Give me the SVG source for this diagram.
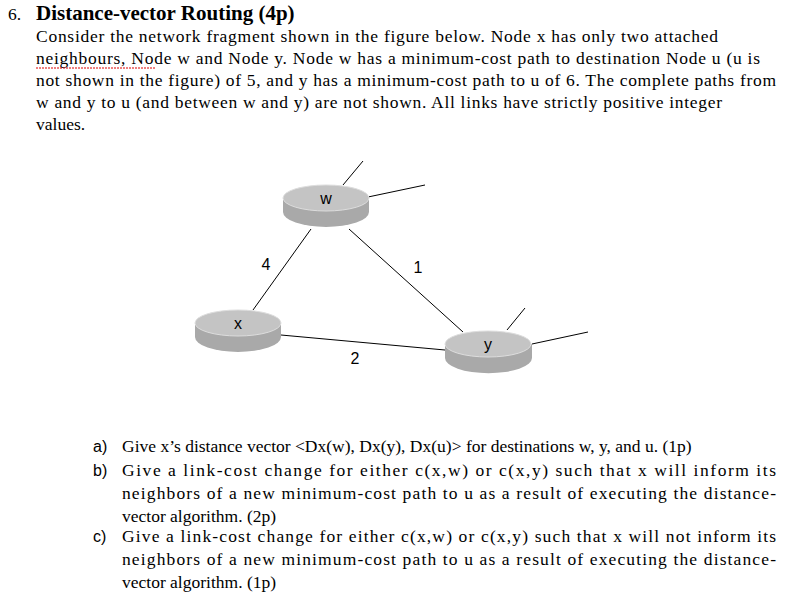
<svg xmlns="http://www.w3.org/2000/svg" width="788" height="600" viewBox="0 0 788 600">
<style>
.t{font-family:"Liberation Serif",serif;font-size:17.5px;fill:#000}
.h{font-family:"Liberation Serif",serif;font-size:21px;font-weight:bold}
.s{font-family:"Liberation Sans",sans-serif;font-size:16px;fill:#000}
.l{stroke:#000;stroke-width:1;fill:none}
.side{fill:#a9a9a9}
.top{fill:#c4c4c4;stroke:#ddd;stroke-width:1}
.sq{stroke:#d00;stroke-width:1;fill:none;stroke-dasharray:2 1}
</style>
<rect width="788" height="600" fill="#fff"/>
<text class="t" x="8" y="20">6.</text>
<text class="h" x="36" y="20">Distance-vector Routing (4p)</text>
<text class="t" x="36" y="42" textLength="682" lengthAdjust="spacing">Consider the network fragment shown in the figure below. Node x has only two attached</text>
<text class="t" x="36" y="64" textLength="724" lengthAdjust="spacing">neighbours, Node w and Node y. Node w has a minimum-cost path to destination Node u (u is</text>
<text class="t" x="36" y="86" textLength="740" lengthAdjust="spacing">not shown in the figure) of 5, and y has a minimum-cost path to u of 6. The complete paths from</text>
<text class="t" x="36" y="108" textLength="686" lengthAdjust="spacing">w and y to u (and between w and y) are not shown. All links have strictly positive integer</text>
<text class="t" x="36" y="130">values.</text>
<path class="sq" d="M36 68 l120 0"/>
<g id="connectors">
<path class="l" d="M343 185L363 161M368 197L425 185M253 310L311 229M349 229L463 332M281 335L445 350M507 330L525 308M532 344L588 332"/>
<text class="s" x="266" y="270" text-anchor="middle">4</text>
<text class="s" x="418" y="273" text-anchor="middle">1</text>
<text class="s" x="355" y="364" text-anchor="middle">2</text>
</g>
<g id="w">
<path class="side" d="M283 198v14a43 15 0 0 0 86 0v-14z"/>
<ellipse class="top" cx="326" cy="198" rx="43" ry="13"/>
<text class="s" x="326" y="204" text-anchor="middle">w</text>
</g>
<g id="x">
<path class="side" d="M195 323v14a43 15 0 0 0 86 0v-14z"/>
<ellipse class="top" cx="238" cy="323" rx="43" ry="13"/>
<text class="s" x="238" y="329" text-anchor="middle">x</text>
</g>
<g id="y">
<path class="side" d="M445 344v14a43 15 0 0 0 87 0v-14z"/>
<ellipse class="top" cx="488" cy="344" rx="43" ry="13"/>
<text class="s" x="488" y="350" text-anchor="middle">y</text>
</g>
<text class="s" x="93" y="452">a)</text>
<text class="t" x="122" y="452">Give x’s distance vector &lt;Dx(w), Dx(y), Dx(u)&gt; for destinations w, y, and u. (1p)</text>
<text class="s" x="93" y="476">b)</text>
<text class="t" x="122" y="476" textLength="654" lengthAdjust="spacing">Give a link-cost change for either c(x,w) or c(x,y) such that x will inform its</text>
<text class="t" x="122" y="499" textLength="654" lengthAdjust="spacing">neighbors of a new minimum-cost path to u as a result of executing the distance-</text>
<text class="t" x="122" y="522">vector algorithm. (2p)</text>
<text class="s" x="93" y="542">c)</text>
<text class="t" x="122" y="542" textLength="654" lengthAdjust="spacing">Give a link-cost change for either c(x,w) or c(x,y) such that x will not inform its</text>
<text class="t" x="122" y="565" textLength="654" lengthAdjust="spacing">neighbors of a new minimum-cost path to u as a result of executing the distance-</text>
<text class="t" x="122" y="588">vector algorithm. (1p)</text>
</svg>
